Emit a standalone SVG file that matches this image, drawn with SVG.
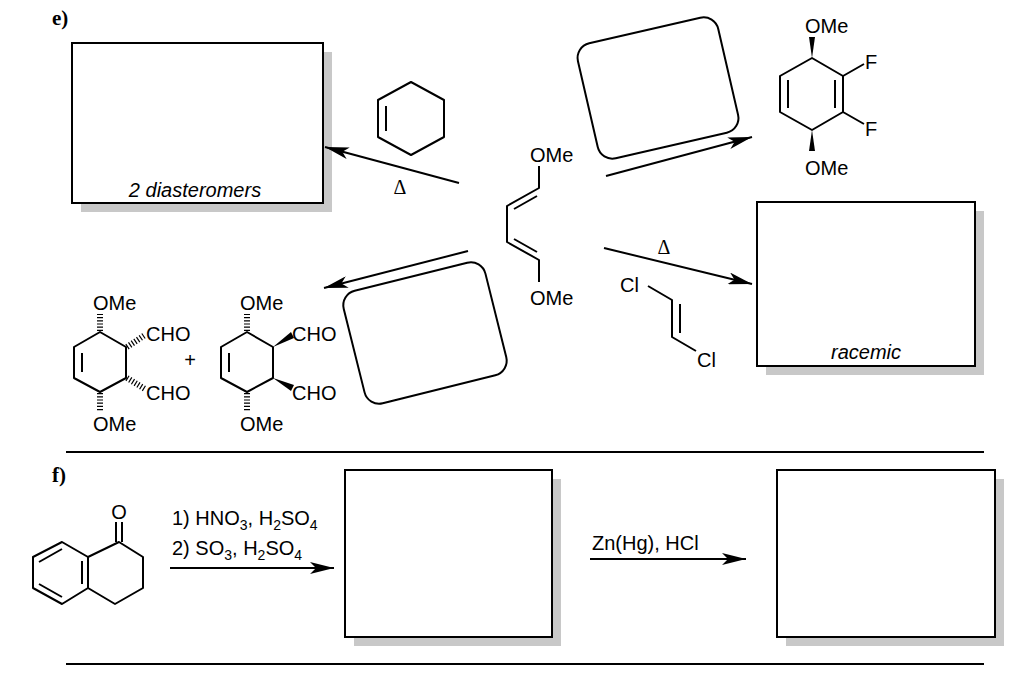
<svg xmlns="http://www.w3.org/2000/svg" width="1024" height="689" viewBox="0 0 1024 689">
<defs>
<marker id="ah" viewBox="0 0 24 12" refX="24" refY="6" markerWidth="24" markerHeight="12" markerUnits="userSpaceOnUse" orient="auto"><path d="M0,0 L24,6 L0,12 L6,6 Z" fill="#000"/></marker>
</defs>
<style>
.b{stroke:#000;stroke-width:2;fill:none;stroke-linejoin:round}
.t{font-family:"Liberation Sans",Arial,sans-serif;font-size:20px;fill:#000}
.lbl{font-family:"Liberation Serif",serif;font-weight:bold;font-size:21px}
.d{font-family:"Liberation Serif",serif;font-size:20px}
.box{fill:#fff;stroke:#000;stroke-width:2}
.sh{fill:#c8c8c8}
.arr{stroke:#000;stroke-width:2;fill:none;marker-end:url(#ah)}
.hash{stroke:#000;stroke-width:6;stroke-dasharray:1.2 2}
</style>
<rect width="1024" height="689" fill="#fff"/>
<text class="lbl" x="52" y="25">e)</text>
<text class="lbl" x="52" y="482">f)</text>
<line class="b" x1="66" y1="452" x2="984" y2="452"/>
<line class="b" x1="66" y1="664" x2="984" y2="664"/>

<g id="box1"><rect class="sh" x="81" y="52" width="251" height="160"/><rect class="box" x="72" y="43" width="251" height="160"/><text class="t" x="195" y="197" text-anchor="middle" font-style="italic" font-size="18">2 diasteromers</text></g>

<g id="cyclohexene"><path class="b" d="M411,82 L444,100 L444,137 L411,155 L378,137 L378,100 Z M386,106 L386,131"/></g>

<g id="diene">
<path class="b" d="M539,166 L539,188 L507,206 L507,242 L539,260 L539,282 M537,196 L514,209 M514,239 L537,252"/>
<text class="t" x="530" y="162">OMe</text>
<text class="t" x="530" y="305">OMe</text>
</g>

<g id="box_tr"><rect class="box" x="-72" y="-59" width="144" height="118" rx="15" transform="translate(658,88) rotate(-13)"/></g>

<g id="difluoro">
<path class="b" d="M812,58 L843,76 L843,112 L812,130 L780,112 L780,76 Z M835,80 L835,108 M788,80 L788,108 M843,76 L864,64 M843,112 L864,124"/>
<path d="M812,58 L809,37 L815,37 Z" fill="#000"/>
<path d="M812,130 L809,151 L815,151 Z" fill="#000"/>
<text class="t" x="805" y="33">OMe</text>
<text class="t" x="865" y="69">F</text>
<text class="t" x="865" y="136">F</text>
<text class="t" x="805" y="175">OMe</text>
</g>

<g id="box_r"><rect class="sh" x="766" y="211" width="218" height="164"/><rect class="box" x="757" y="202" width="218" height="164"/><text class="t" x="866" y="359" text-anchor="middle" font-style="italic" font-size="18">racemic</text></g>

<g id="dichloro">
<path class="b" d="M648,286 L672,300 L672,337 L696,351 M680,304 L680,333"/>
<text class="t" x="620" y="292">Cl</text>
<text class="t" x="697" y="367">Cl</text>
</g>

<g id="box_bl"><rect class="box" x="-73" y="-58" width="146" height="116" rx="15" transform="translate(425,333) rotate(-14)"/></g>

<g id="prod1">
<path class="b" d="M100,332 L126,347 L126,378 L100,392 L74,378 L74,347 Z M82,353 L82,372"/>
<line class="hash" x1="100" y1="331" x2="100" y2="314"/>
<line class="hash" x1="100" y1="393" x2="100" y2="411"/>
<line class="hash" x1="127" y1="347" x2="145" y2="335"/>
<line class="hash" x1="127" y1="378" x2="145" y2="389"/>
<text class="t" x="93" y="310">OMe</text>
<text class="t" x="146" y="341">CHO</text>
<text class="t" x="146" y="400">CHO</text>
<text class="t" x="93" y="431">OMe</text>
</g>
<text class="t" x="190" y="367" text-anchor="middle">+</text>
<g id="prod2">
<path class="b" d="M247,332 L273,347 L273,378 L247,392 L221,378 L221,347 Z M229,353 L229,372"/>
<line class="hash" x1="247" y1="331" x2="247" y2="314"/>
<line class="hash" x1="247" y1="393" x2="247" y2="411"/>
<path d="M273,347 L291,332 L294,338 Z" fill="#000"/>
<path d="M273,378 L294,385 L291,391 Z" fill="#000"/>
<text class="t" x="240" y="310">OMe</text>
<text class="t" x="292" y="341">CHO</text>
<text class="t" x="292" y="400">CHO</text>
<text class="t" x="240" y="431">OMe</text>
</g>

<g id="tetralone">
<path class="b" d="M88,557 L62,542 L33,557 L33,588 L62,604 L88,588 Z M88,557 L119,542 L143,557 L143,588 L115,604 L88,588 M82,561 L82,584 M62,549 L39,562 M39,584 L62,597 M116,542 L116,522 M122,542 L122,522"/>
<text class="t" x="119" y="519" text-anchor="middle">O</text>
</g>
<text class="t" x="172" y="525">1) HNO<tspan font-size="14" dy="5">3</tspan><tspan dy="-5">, H</tspan><tspan font-size="14" dy="5">2</tspan><tspan dy="-5">SO</tspan><tspan font-size="14" dy="5">4</tspan></text>
<text class="t" x="172" y="555">2) SO<tspan font-size="14" dy="5">3</tspan><tspan dy="-5">, H</tspan><tspan font-size="14" dy="5">2</tspan><tspan dy="-5">SO</tspan><tspan font-size="14" dy="5">4</tspan></text>

<g id="box_f1"><rect class="sh" x="354" y="479" width="207" height="167"/><rect class="box" x="345" y="470" width="207" height="167"/></g>
<g id="box_f2"><rect class="sh" x="786" y="479" width="218" height="167"/><rect class="box" x="777" y="470" width="218" height="167"/></g>
<text class="t" x="592" y="550">Zn(Hg), HCl</text>

<g id="connectors">
<line class="arr" x1="459" y1="183" x2="325" y2="147"/>
<text class="d" x="400" y="194" text-anchor="middle">Δ</text>
<line class="arr" x1="606" y1="176" x2="752" y2="137"/>
<line class="arr" x1="604" y1="248" x2="752" y2="284"/>
<text class="d" x="664" y="254" text-anchor="middle">Δ</text>
<line class="arr" x1="468" y1="251" x2="324" y2="288"/>
<line class="arr" x1="170" y1="568" x2="334" y2="568"/>
<line class="arr" x1="590" y1="559" x2="746" y2="559"/>
</g>
</svg>
